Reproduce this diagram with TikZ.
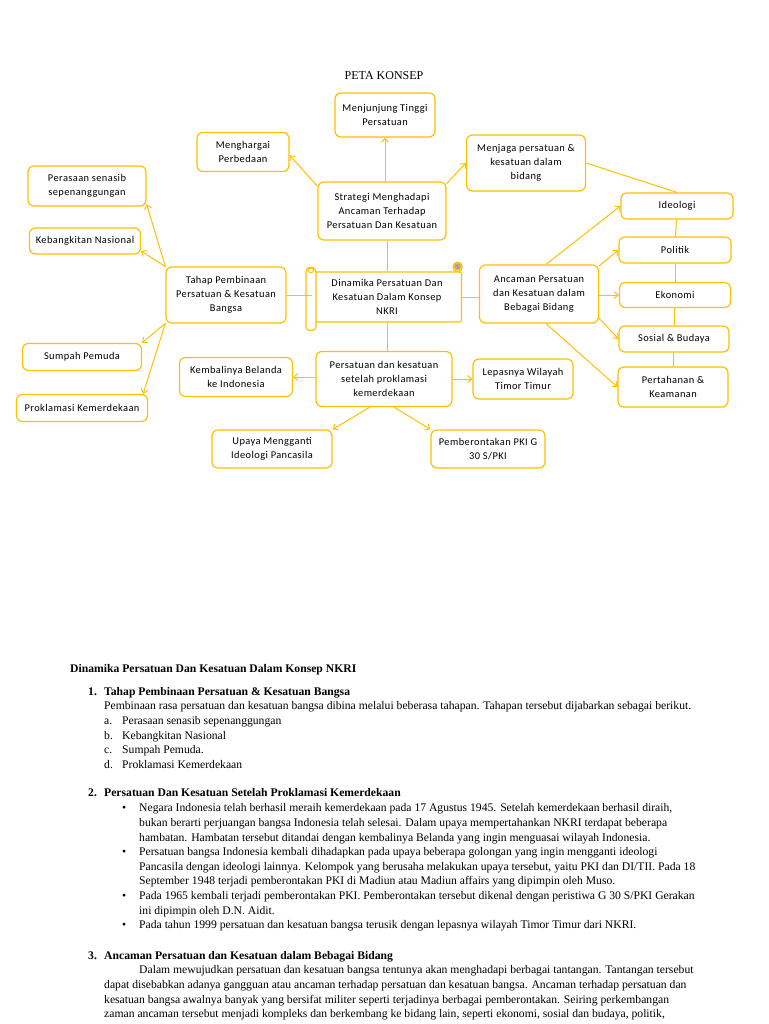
\documentclass[tikz,border=0pt]{standalone}
\usepackage{fontspec}
\setmainfont{Liberation Serif}
\newfontfamily\kotakfont[LetterSpace=4]{Carlito}
\usetikzlibrary{positioning,arrows.meta}
\definecolor{emas}{HTML}{FFC000}
\newcommand\teks{\fontsize{11.65}{14.65}\selectfont}
\newcommand\isikotak{\kotakfont\fontsize{10.4}{14}\selectfont}
\newcommand\awal{\rule{0pt}{10pt}}

\begin{document}
\begin{tikzpicture}[x=1pt, y=-1pt,
  kotak/.style={draw=emas, line width=1.2pt, rounded corners=6pt, fill=white,
                align=center, font=\isikotak, inner sep=2pt},
  panah/.style={draw=emas, line width=1pt, -{Straight Barb[length=4pt,width=7pt]}},
  garis/.style={draw=emas, line width=1pt},
  isi/.style={font=\teks, anchor=base west, inner sep=0pt, align=left},
  blok/.style={isi, anchor=north west},
  tebal/.style={isi, font=\teks\bfseries}]
  \fill[white] (0,0) rectangle (768,1024);
  \useasboundingbox (0,0) rectangle (768,1024);

  \node[font=\fontsize{12}{14}\selectfont] (judulpeta) at (384,76) {PETA KONSEP};

  % peta konsep
  \node[kotak, minimum width=100, minimum height=44] (menjunjung) at (385,115) {Menjunjung Tinggi\\Persatuan};
  \node[kotak, minimum width=92, minimum height=39] (menghargai) at (243,152) {Menghargai\\Perbedaan};
  \node[kotak, minimum width=128, minimum height=58] (strategi) at (382,211) {Strategi Menghadapi\\Ancaman Terhadap\\Persatuan Dan Kesatuan};
  \node[kotak, minimum width=119, minimum height=56] (menjaga) at (526,163) {Menjaga persatuan \&\\kesatuan dalam\\bidang};
  \node[kotak, minimum width=118, minimum height=40] (perasaan) at (87,186) {Perasaan senasib\\sepenanggungan};
  \node[kotak, minimum width=111, minimum height=26] (kebangkitan) at (85,241) {Kebangkitan Nasional};
  \node[kotak, minimum width=120, minimum height=56] (tahap) at (226,295) {Tahap Pembinaan\\Persatuan \& Kesatuan\\Bangsa};
  \node[kotak, minimum width=119, minimum height=27] (sumpah) at (82,357) {Sumpah Pemuda};
  \node[kotak, minimum width=131, minimum height=27] (proklamasi) at (82,408) {Proklamasi Kemerdekaan};
  \node[kotak, minimum width=113, minimum height=39] (kembali) at (236,377) {Kembalinya Belanda\\ke Indonesia};
  \node[kotak, minimum width=136, minimum height=55] (pasca) at (384,379) {Persatuan dan kesatuan\\setelah proklamasi\\kemerdekaan};
  \node[kotak, minimum width=100, minimum height=40] (lepas) at (523,379) {Lepasnya Wilayah\\Timor Timur};
  \node[kotak, minimum width=120, minimum height=38] (upaya) at (272,449) {Upaya Mengganti\\Ideologi Pancasila};
  \node[kotak, minimum width=114, minimum height=38] (pki) at (488,449) {Pemberontakan PKI G\\30 S/PKI};
  \node[kotak, minimum width=119, minimum height=58] (ancaman) at (539,294) {Ancaman Persatuan\\dan Kesatuan dalam\\Bebagai Bidang};
  \node[kotak, minimum width=112, minimum height=26] (ideologi) at (677,206) {Ideologi};
  \node[kotak, minimum width=112, minimum height=26] (politik) at (675,250) {Politik};
  \node[kotak, minimum width=111, minimum height=25] (ekonomi) at (675,295) {Ekonomi};
  \node[kotak, minimum width=110, minimum height=26] (sosial) at (674,339) {Sosial \& Budaya};
  \node[kotak, minimum width=110, minimum height=40] (pertahanan) at (673,387) {Pertahanan \&\\Keamanan};

  % gulungan di tengah
  \node[kotak, rounded corners=2pt, minimum width=149, minimum height=50] (inti) at (387,297) {Dinamika Persatuan Dan\\Kesatuan Dalam Konsep\\NKRI};
  \draw[garis, line width=1.2pt, fill=white, rounded corners=4pt]
    ([xshift=-6pt,yshift=4pt]inti.north west) rectangle ([xshift=4pt,yshift=-8pt]inti.south west);
  \draw[garis, line width=1pt] ([xshift=-1pt,yshift=1pt]inti.north west) circle (2.5);
  \draw[garis, line width=1.2pt, fill=white, rounded corners=4pt]
    ([xshift=-9pt]inti.north east) rectangle ([yshift=9pt]inti.north east);
  \draw[garis, fill=black!35] ([xshift=-4.5pt,yshift=5pt]inti.north east) circle (3.5);

  \draw[garis] (strategi.south -| inti) -- (inti.north);
  \draw[garis] (inti.south) -- (inti.south |- pasca.north);
  \draw[garis] (tahap.east) -- (tahap.east -| inti.west);
  \draw[garis] (inti.east) -- (inti.east -| ancaman.west);
  \draw[panah] (strategi.north -| menjunjung) -- (menjunjung.south);
  \draw[panah] (strategi.159) -- (menghargai.-4);
  \draw[panah] (strategi.23) -- (menjaga.west);
  \draw[panah] (tahap.155) -- (perasaan.-17);
  \draw[panah] (tahap.155) -- (kebangkitan.-10);
  \draw[panah] (tahap.205) -- (sumpah.north east);
  \draw[panah] (tahap.205) -- (proklamasi.13);
  \draw[panah] (pasca.west |- kembali) -- (kembali.east);
  \draw[panah] (pasca.east) -- (pasca.east -| lepas.west);
  \draw[panah] ([xshift=-14pt]pasca.south) -- (upaya.north east);
  \draw[panah] ([xshift=10pt]pasca.south) -- (pki.north west);
  \draw[panah] ([xshift=7pt]ancaman.north) -- (ideologi.west);
  \draw[panah] (ancaman.25) -- (politik.west);
  \draw[panah] (ancaman.east |- ekonomi) -- (ekonomi.west);
  \draw[panah] (ancaman.-22) -- (sosial.west);
  \draw[panah] ([xshift=7pt]ancaman.south) -- (pertahanan.west);
  \draw[garis] (menjaga.east) -- (ideologi.north);
  \draw[garis] (ideologi) -- (politik);
  \draw[garis] (politik) -- (ekonomi);
  \draw[garis] (ekonomi) -- (sosial);
  \draw[garis] (sosial) -- (pertahanan);

  % uraian
  \node[tebal] (judul) at (70,672.5) {Dinamika Persatuan Dan Kesatuan Dalam Konsep NKRI};
  \node[tebal] (no1) at (88,695.5) {1.};
  \node[tebal] (sub1) at (104,695.5) {Tahap Pembinaan Persatuan \& Kesatuan Bangsa};
  \node[blok] (par1) at (104,699.5) {\awal Pembinaan rasa persatuan dan kesatuan bangsa dibina melalui beberasa tahapan. Tahapan tersebut dijabarkan sebagai berikut.\\
    \makebox[18pt][l]{a.}Perasaan senasib sepenanggungan\\
    \makebox[18pt][l]{b.}Kebangkitan Nasional\\
    \makebox[18pt][l]{c.}Sumpah Pemuda.\\
    \makebox[18pt][l]{d.}Proklamasi Kemerdekaan};

  \node[tebal] (no2) at (88,796.5) {2.};
  \node[tebal] (sub2) at (104,796.5) {Persatuan Dan Kesatuan Setelah Proklamasi Kemerdekaan};
  \node[blok] (par2) at (122,801.5) {\awal\makebox[17pt][l]{\textbullet}Negara Indonesia telah berhasil meraih kemerdekaan pada 17 Agustus 1945. Setelah kemerdekaan berhasil diraih,\\
    \hspace*{17pt}bukan berarti perjuangan bangsa Indonesia telah selesai. Dalam upaya mempertahankan NKRI terdapat beberapa\\
    \hspace*{17pt}hambatan. Hambatan tersebut ditandai dengan kembalinya Belanda yang ingin menguasai wilayah Indonesia.\\
    \makebox[17pt][l]{\textbullet}Persatuan bangsa Indonesia kembali dihadapkan pada upaya beberapa golongan yang ingin mengganti ideologi\\
    \hspace*{17pt}Pancasila dengan ideologi lainnya. Kelompok yang berusaha melakukan upaya tersebut, yaitu PKI dan DI/TII. Pada 18\\
    \hspace*{17pt}September 1948 terjadi pemberontakan PKI di Madiun atau Madiun affairs yang dipimpin oleh Muso.\\
    \makebox[17pt][l]{\textbullet}Pada 1965 kembali terjadi pemberontakan PKI. Pemberontakan tersebut dikenal dengan peristiwa G 30 S/PKI Gerakan\\
    \hspace*{17pt}ini dipimpin oleh D.N. Aidit.\\
    \makebox[17pt][l]{\textbullet}Pada tahun 1999 persatuan dan kesatuan bangsa terusik dengan lepasnya wilayah Timor Timur dari NKRI.};

  \node[tebal] (no3) at (88,959.5) {3.};
  \node[tebal] (sub3) at (104,959.5) {Ancaman Persatuan dan Kesatuan dalam Bebagai Bidang};
  \node[blok] (par3) at (104,963.5) {\awal\hspace*{35pt}Dalam mewujudkan persatuan dan kesatuan bangsa tentunya akan menghadapi berbagai tantangan. Tantangan tersebut\\
    dapat disebabkan adanya gangguan atau ancaman terhadap persatuan dan kesatuan bangsa. Ancaman terhadap persatuan dan\\
    kesatuan bangsa awalnya banyak yang bersifat militer seperti terjadinya berbagai pemberontakan. Seiring perkembangan\\
    zaman ancaman tersebut menjadi kompleks dan berkembang ke bidang lain, seperti ekonomi, sosial dan budaya, politik,};
\end{tikzpicture}
\end{document}
